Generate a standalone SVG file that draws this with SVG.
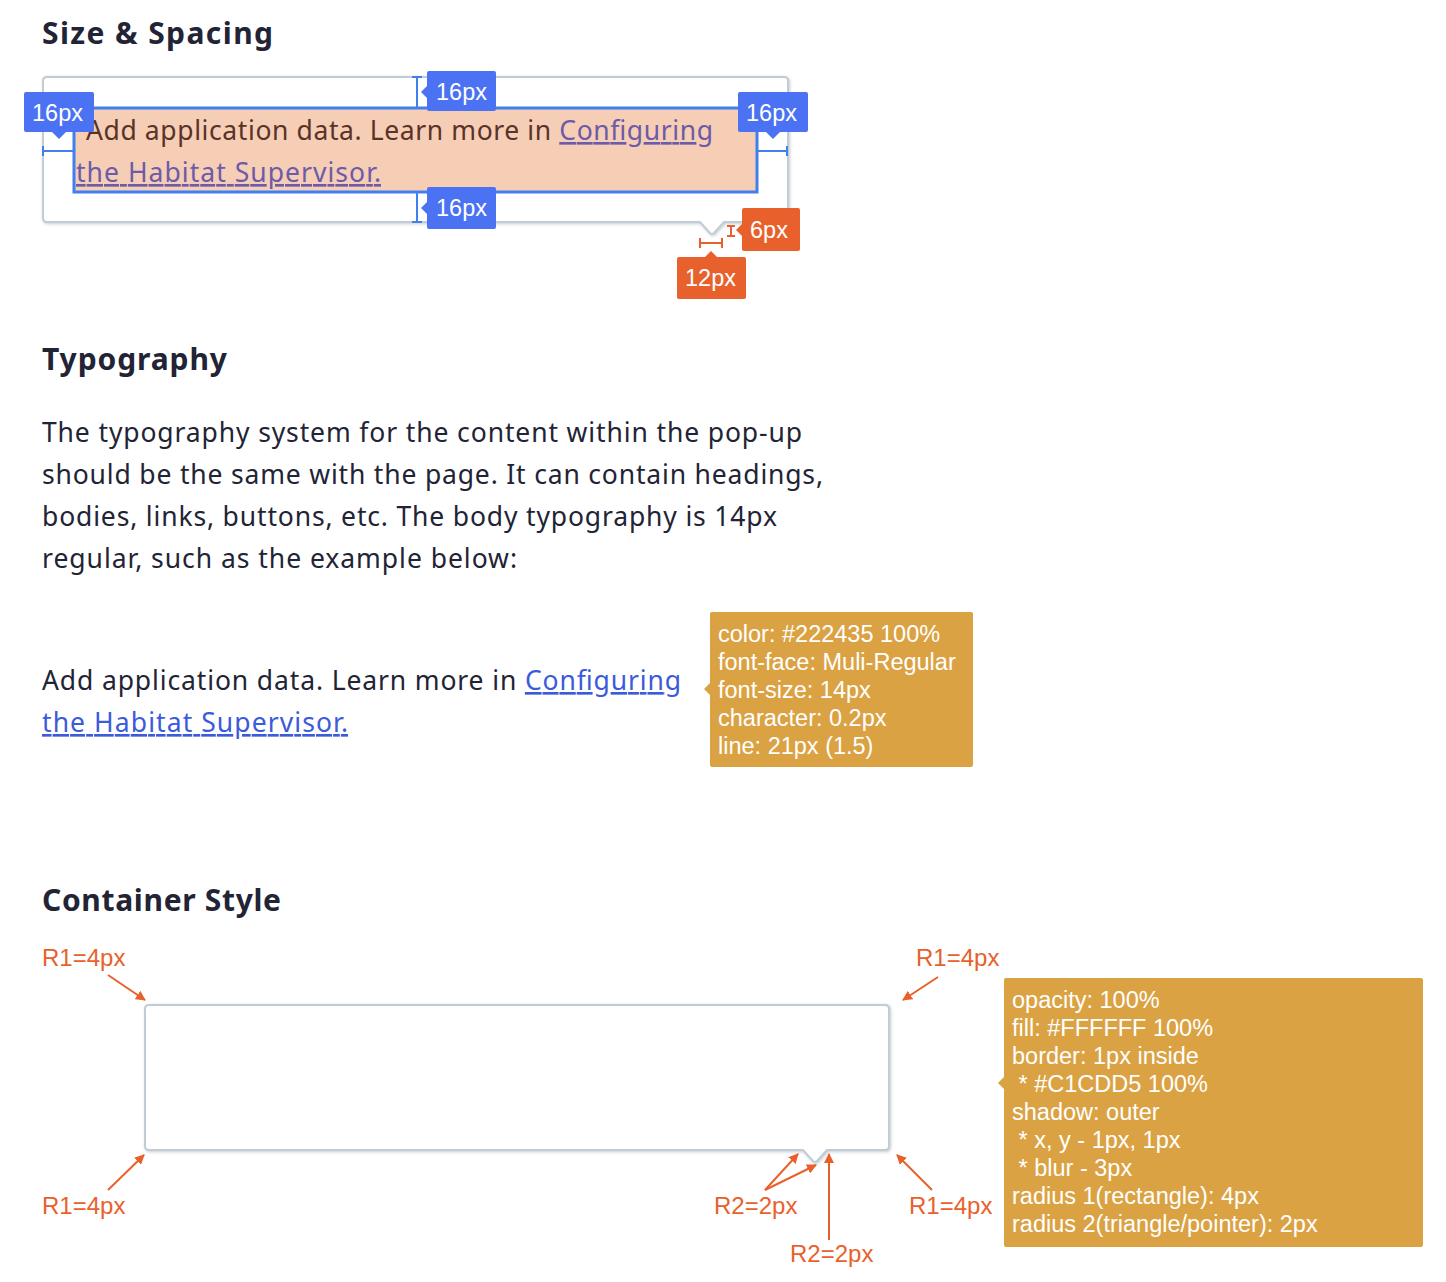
<svg xmlns="http://www.w3.org/2000/svg" width="1446" height="1282" viewBox="0 0 1446 1282">
<defs>
<style>
.h{font-family:"Noto Sans",Lato,sans-serif;font-weight:bold;font-size:30px;fill:#222435}
.b{font-family:"Noto Sans",Lato,sans-serif;font-size:26.5px;fill:#222435}
.lk{fill:#3B5BDB;text-decoration:underline}
.lab{font-family:"Liberation Sans",Arial,sans-serif;font-size:23.5px;fill:#fff}
.or{font-family:"Liberation Sans",Arial,sans-serif;font-size:24px;fill:#E8612C}
.tip{font-family:"Liberation Sans",Arial,sans-serif;font-size:23.5px;fill:#fff}
.box{fill:#fff;stroke:#C1CDD5;stroke-width:2}
.ml{stroke:#3F7FF0;stroke-width:2;fill:none}
.ol{stroke:#E8612C;stroke-width:2;fill:none}
</style>
<marker id="ah" viewBox="0 0 10 10" refX="9" refY="5" markerWidth="5" markerHeight="5" orient="auto"><path d="M0,0 L10,5 L0,10 z" fill="#E8612C"/></marker>
<filter id="sh"><feDropShadow dx="1" dy="1" stdDeviation="1.5" flood-color="#8899a6" flood-opacity="0.5"/></filter>
</defs>
<text class="h" x="42" y="44" textLength="231">Size &amp; Spacing</text>
<g id="popup1">
<path class="box" filter="url(#sh)" d="M47,77 H784 Q788,77 788,81 V218 Q788,222 784,222 H724 L714,233 Q712,235 710,233 L700,222 H47 Q43,222 43,218 V81 Q43,77 47,77 Z"/>
<rect x="74" y="108" width="683" height="84" fill="#F6CDB5" stroke="#3F7FF0" stroke-width="3"/>
<text class="b" x="86" y="140" style="fill:#5a3328" textLength="627">Add application data. Learn more in <tspan style="fill:#6B5BA8;text-decoration:underline">Configuring</tspan></text>
<text class="b" x="76" y="182" style="fill:#6B5BA8;text-decoration:underline" textLength="305">the Habitat Supervisor.</text>
</g>
<g id="measures">
<path class="ml" d="M417,77 V108 M412,77 H422 M412,108 H422 M417,192 V222 M412,192 H422 M412,222 H422 M43,151 H74 M43,146 V156 M757,151 H787 M787,146 V156"/>
<path class="ol" d="M700,243 H722 M700,238 V248 M722,238 V248 M731,226 V236 M727,226 H735 M727,236 H735"/>
</g>
<g id="labels">
<rect x="427" y="71" width="69" height="40" rx="2" fill="#4A72F2"/><path d="M427,86 L421,92 L427,98 Z" fill="#4A72F2"/><text class="lab" x="436" y="100">16px</text>
<rect x="24" y="92" width="70" height="40" rx="2" fill="#4A72F2"/><path d="M52,132 L59,139 L66,132 Z" fill="#4A72F2"/><text class="lab" x="32" y="121">16px</text>
<rect x="738" y="92" width="70" height="40" rx="2" fill="#4A72F2"/><path d="M766,132 L773,139 L780,132 Z" fill="#4A72F2"/><text class="lab" x="746" y="121">16px</text>
<rect x="427" y="187" width="69" height="42" rx="2" fill="#4A72F2"/><path d="M427,202 L421,208 L427,214 Z" fill="#4A72F2"/><text class="lab" x="436" y="216">16px</text>
<rect x="742" y="208" width="58" height="43" rx="2" fill="#E8612C"/><path d="M742,224 L736,230 L742,236 Z" fill="#E8612C"/><text class="lab" x="750" y="238">6px</text>
<rect x="677" y="257" width="69" height="42" rx="2" fill="#E8612C"/><path d="M705,257 L711,251 L717,257 Z" fill="#E8612C"/><text class="lab" x="685" y="286">12px</text>
</g>
<text class="h" x="42" y="370" textLength="185">Typography</text>
<text class="b" x="42" y="442" textLength="760">The typography system for the content within the pop-up</text>
<text class="b" x="42" y="484" textLength="781">should be the same with the page. It can contain headings,</text>
<text class="b" x="42" y="526" textLength="735">bodies, links, buttons, etc. The body typography is 14px</text>
<text class="b" x="42" y="568" textLength="475">regular, such as the example below:</text>
<text class="b" x="42" y="690" textLength="639">Add application data. Learn more in <tspan class="lk">Configuring</tspan></text>
<text class="b lk" x="42" y="732" textLength="306">the Habitat Supervisor.</text>
<g id="tip1">
<rect x="710" y="612" width="263" height="155" rx="2" fill="#DBA243"/><path d="M710,683 L704,689 L710,695 Z" fill="#DBA243"/>
<text class="tip" x="718" y="642">color: #222435 100%</text>
<text class="tip" x="718" y="670">font-face: Muli-Regular</text>
<text class="tip" x="718" y="698">font-size: 14px</text>
<text class="tip" x="718" y="726">character: 0.2px</text>
<text class="tip" x="718" y="754">line: 21px (1.5)</text>
</g>
<text class="h" x="42" y="911" textLength="239">Container Style</text>
<g id="popup2">
<path class="box" filter="url(#sh)" d="M149,1005 H885 Q889,1005 889,1009 V1146 Q889,1150 885,1150 H827 L817,1161 Q815,1163 813,1161 L803,1150 H149 Q145,1150 145,1146 V1009 Q145,1005 149,1005 Z"/>
</g>
<g id="tip2">
<rect x="1004" y="978" width="419" height="269" rx="2" fill="#DBA243"/><path d="M1004,1077 L998,1083 L1004,1089 Z" fill="#DBA243"/>
<text class="tip" x="1012" y="1008">opacity: 100%</text>
<text class="tip" x="1012" y="1036">fill: #FFFFFF 100%</text>
<text class="tip" x="1012" y="1064">border: 1px inside</text>
<text class="tip" x="1012" y="1092" xml:space="preserve"> * #C1CDD5 100%</text>
<text class="tip" x="1012" y="1120">shadow: outer</text>
<text class="tip" x="1012" y="1148" xml:space="preserve"> * x, y - 1px, 1px</text>
<text class="tip" x="1012" y="1176" xml:space="preserve"> * blur - 3px</text>
<text class="tip" x="1012" y="1204">radius 1(rectangle): 4px</text>
<text class="tip" x="1012" y="1232">radius 2(triangle/pointer): 2px</text>
</g>
<g id="connectors">
<path class="ol" marker-end="url(#ah)" d="M108,975 L145,1000"/>
<path class="ol" marker-end="url(#ah)" d="M938,977 L903,1000"/>
<path class="ol" marker-end="url(#ah)" d="M108,1190 L144,1155"/>
<path class="ol" marker-end="url(#ah)" d="M932,1190 L897,1155"/>
<path class="ol" marker-end="url(#ah)" d="M765,1190 L798,1154"/>
<path class="ol" marker-end="url(#ah)" d="M765,1190 L816,1165"/>
<path class="ol" marker-end="url(#ah)" d="M829,1240 V1154"/>
</g>
<text class="or" x="42" y="966">R1=4px</text>
<text class="or" x="916" y="966">R1=4px</text>
<text class="or" x="42" y="1214">R1=4px</text>
<text class="or" x="909" y="1214">R1=4px</text>
<text class="or" x="714" y="1214">R2=2px</text>
<text class="or" x="790" y="1262">R2=2px</text>
</svg>
